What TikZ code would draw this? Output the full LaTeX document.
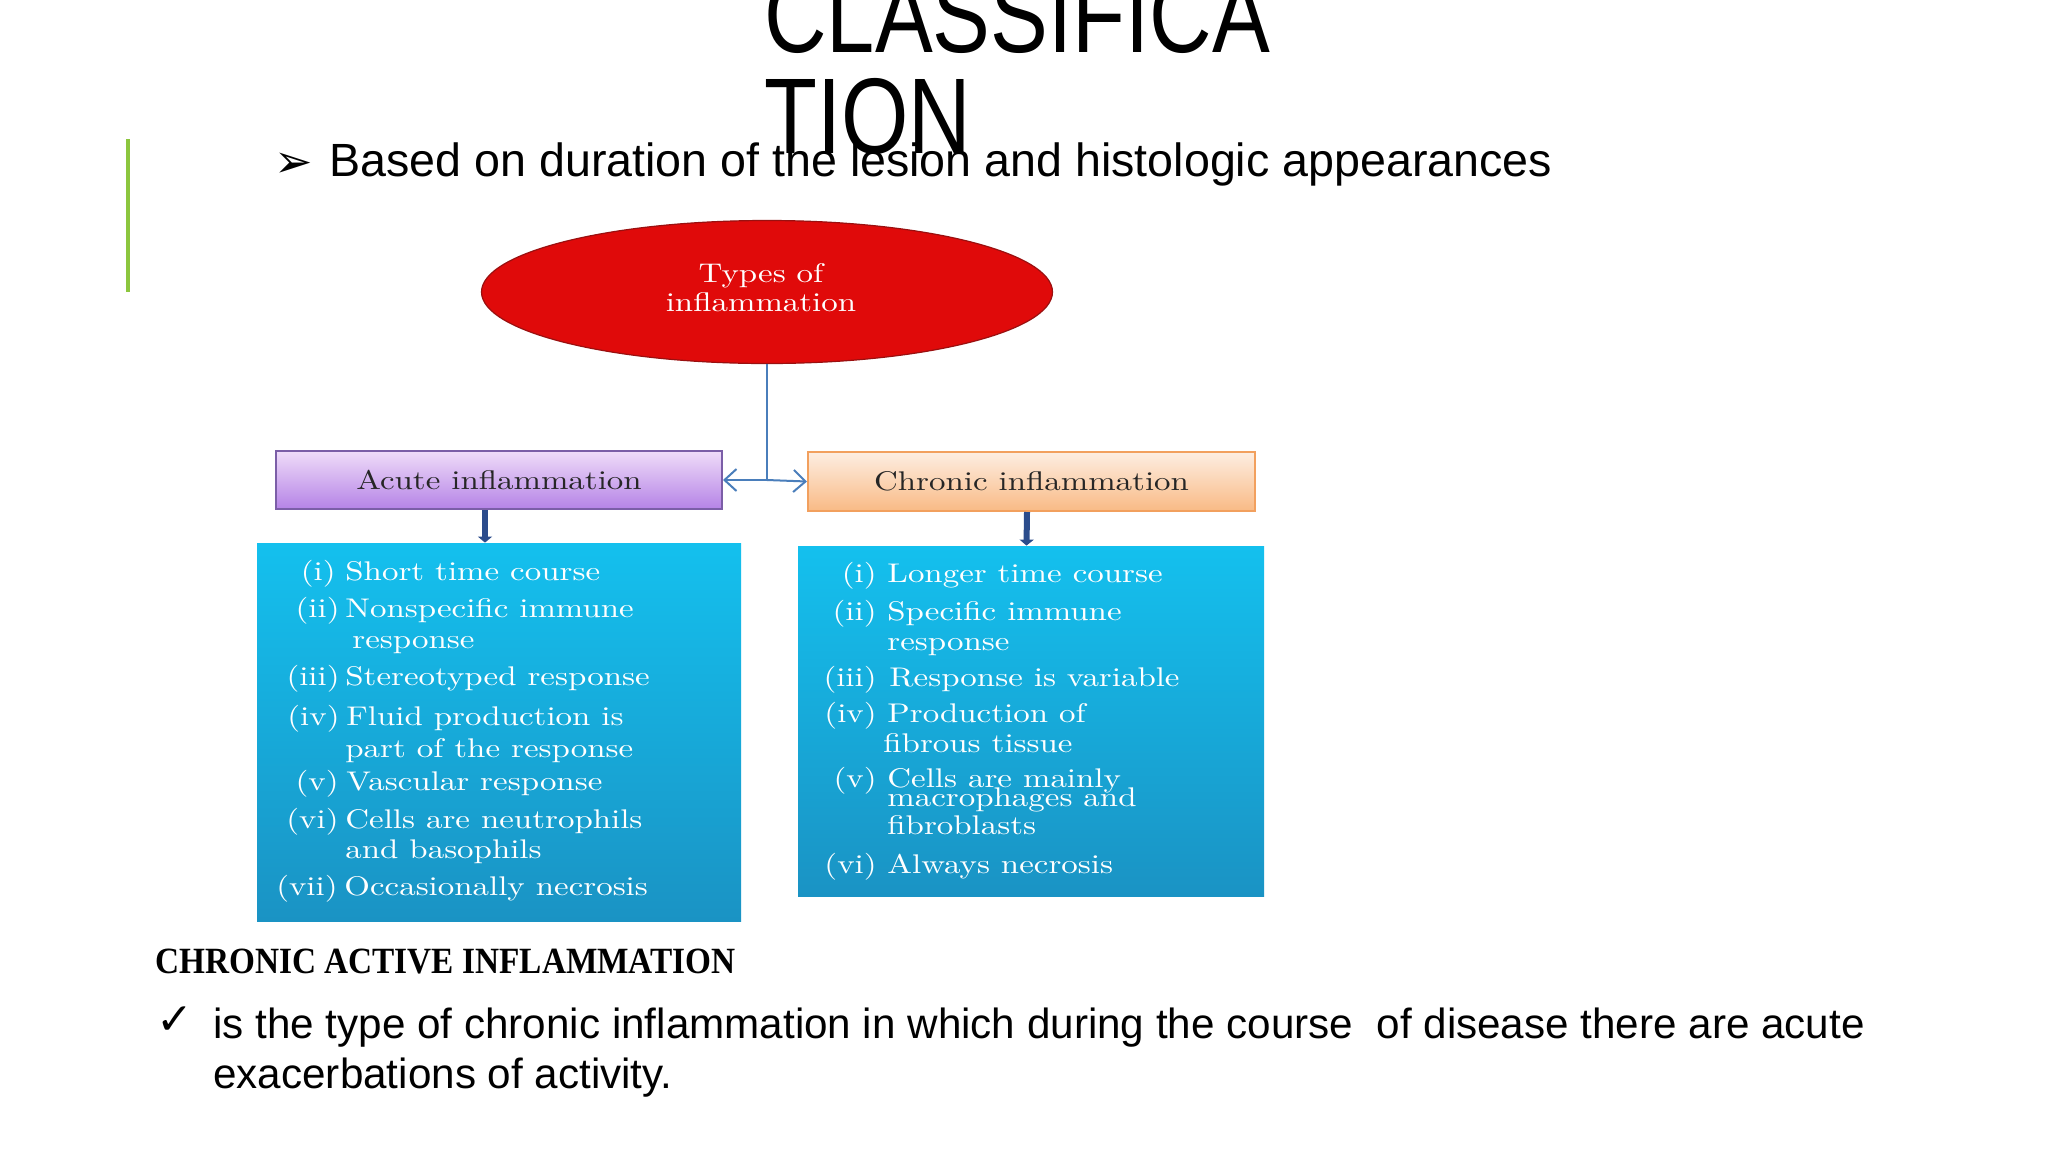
\documentclass[tikz,border=0pt]{standalone}
\usepackage{fontspec}
\setmainfont{Liberation Sans}
\newfontfamily\titlefont[FakeStretch=0.805]{Liberation Sans}
\newfontfamily\boxfont[FakeStretch=1.22]{lmroman10-regular.otf}
\newfontfamily\symfont{DejaVu Sans}
\newfontfamily\headfont[FakeStretch=0.9]{Liberation Serif}
\usetikzlibrary{shapes.geometric,arrows.meta}
\definecolor{greenbar}{HTML}{8CC63E}
\definecolor{ellred}{HTML}{E00A0A}
\definecolor{ellborder}{HTML}{9A1010}
\definecolor{conn}{HTML}{4A7EBB}
\definecolor{dkconn}{HTML}{2B4C8C}
\definecolor{acTop}{HTML}{EFDCF9}
\definecolor{acBot}{HTML}{B583E6}
\definecolor{acBorder}{HTML}{7B5EA7}
\definecolor{chTop}{HTML}{FDEEE2}
\definecolor{chBot}{HTML}{F9BA85}
\definecolor{chBorder}{HTML}{F2A05E}
\definecolor{lsTop}{HTML}{14C0EE}
\definecolor{lsBot}{HTML}{1A93C4}
\definecolor{hdtext}{HTML}{262626}
\tikzset{
  plain/.style={inner sep=0pt, anchor=base west},
  hdbox/.style={draw, line width=1pt, inner sep=0pt, text=hdtext, font=\boxfont\fontsize{13.5}{15}\selectfont},
  listbox/.style={inner sep=0pt, top color=lsTop, bottom color=lsBot, draw=none},
  lst/.style={inner sep=0pt, text=white, font=\boxfont\fontsize{13.5}{15}\selectfont},
  lab/.style={lst, anchor=base east},
  itm/.style={lst, anchor=base west},
  conline/.style={conn, line width=1pt},
  conarrow/.style={conline, -{Straight Barb[length=6pt,width=11pt,line width=1pt]}},
  dk/.style={dkconn, line width=3pt, -{Triangle[length=3pt,width=7pt]}},
}
\begin{document}
\begin{tikzpicture}[x=0.5pt,y=-0.5pt]
\useasboundingbox (0,0) rectangle (2048,1152);
\clip (0,0) rectangle (2048,1152);
\fill[white] (0,0) rectangle (2048,1152);

% title
\node[plain, font=\titlefont\fontsize{53.8}{60}\selectfont] (t1) at (764,52) {CLASSIFICA};
\node[plain, font=\titlefont\fontsize{53.8}{60}\selectfont] (t2) at (764,153) {TION};

% green bar
\draw[greenbar, line width=2pt] (128,139) -- (128,292);

% first bullet line
\node[plain, font=\symfont\fontsize{23}{26}\selectfont] (b1) at (274,177) {➢};
\node[plain, font=\fontsize{23.3}{28}\selectfont] (l1) at (329,176) {Based on duration of the lesion and histologic appearances};

% ellipse
\node[ellipse, draw=ellborder, line width=0.6pt, fill=ellred, minimum width=285.5pt, minimum height=71.5pt, inner sep=0pt] (ell) at (767,292) {};
\node[lst, anchor=base] (e1) at (761,282) {Types of};
\node[lst, anchor=base] (e2) at (761,311) {inflammation};

% headers
\node[hdbox, draw=acBorder, top color=acTop, bottom color=acBot, minimum width=223pt, minimum height=29pt] (acute) at (499,480) {Acute inflammation};
\node[hdbox, draw=chBorder, top color=chTop, bottom color=chBot, minimum width=223.5pt, minimum height=29.5pt] (chronic) at (1031.5,481.5) {Chronic inflammation};

% connectors from ellipse
\coordinate (j) at (ell.south |- acute.east);
\draw[conline] (ell.south) -- (j);
\draw[conarrow] (j) -- (acute.east);
\draw[conarrow] (j) -- (chronic.west);

% list boxes
\node[listbox, minimum width=242pt, minimum height=189pt] (acl) at (499,732) {};
\node[listbox, minimum width=233pt, minimum height=175pt] (chl) at (1031,721) {};

\draw[dk] ([xshift=-7pt]acute.south) -- ([xshift=-7pt]acl.north);
\draw[dk] ([xshift=-2.25pt]chronic.south) -- ([xshift=-2.25pt]chl.north);

% acute list
\node[lab] (a1l) at (336,580) {(i)};
\node[itm] (a1t) at (345,580) {Short time course};
\node[lab] (a2l) at (340,617) {(ii)};
\node[itm] (a2t) at (345,617) {Nonspecific immune};
\node[itm] (a2u) at (352,648) {response};
\node[lab] (a3l) at (340,685) {(iii)};
\node[itm] (a3t) at (345,685) {Stereotyped response};
\node[lab] (a4l) at (340,725) {(iv)};
\node[itm] (a4t) at (346,725) {Fluid production is};
\node[itm] (a4u) at (345,757) {part of the response};
\node[lab] (a5l) at (339,790) {(v)};
\node[itm] (a5t) at (346,790) {Vascular response};
\node[lab] (a6l) at (339,828) {(vi)};
\node[itm] (a6t) at (345,828) {Cells are neutrophils};
\node[itm] (a6u) at (345,858) {and basophils};
\node[lab] (a7l) at (338,895) {(vii)};
\node[itm] (a7t) at (344,895) {Occasionally necrosis};

% chronic list
\node[lab] (c1l) at (877,582) {(i)};
\node[itm] (c1t) at (887,582) {Longer time course};
\node[lab] (c2l) at (877,620) {(ii)};
\node[itm] (c2t) at (887,620) {Specific immune};
\node[itm] (c2u) at (887,650) {response};
\node[lab] (c3l) at (877,686) {(iii)};
\node[itm] (c3t) at (889,686) {Response is variable};
\node[lab] (c4l) at (877,722) {(iv)};
\node[itm] (c4t) at (887,722) {Production of};
\node[itm] (c4u) at (883,752) {fibrous tissue};
\node[lab] (c5l) at (877,787) {(v)};
\node[itm] (c5t) at (887,787) {Cells are mainly};
\node[itm] (c5u) at (887,806) {macrophages and};
\node[itm] (c5v) at (887,834) {fibroblasts};
\node[lab] (c6l) at (877,873) {(vi)};
\node[itm] (c6t) at (887,873) {Always necrosis};

% bottom
\node[plain, font=\headfont\bfseries\fontsize{18.5}{20}\selectfont] (h) at (155,973) {CHRONIC ACTIVE INFLAMMATION};
\node[plain, font=\symfont\bfseries\fontsize{22}{24}\selectfont] (ck) at (156,1034) {✓};
\node[plain, font=\fontsize{21.1}{25}\selectfont] (p1) at (213,1038) {is the type of chronic inflammation in which during the course\ \ of disease there are acute};
\node[plain, font=\fontsize{21.1}{25}\selectfont] (p2) at (213,1088) {exacerbations of activity.};
\end{tikzpicture}
\end{document}
